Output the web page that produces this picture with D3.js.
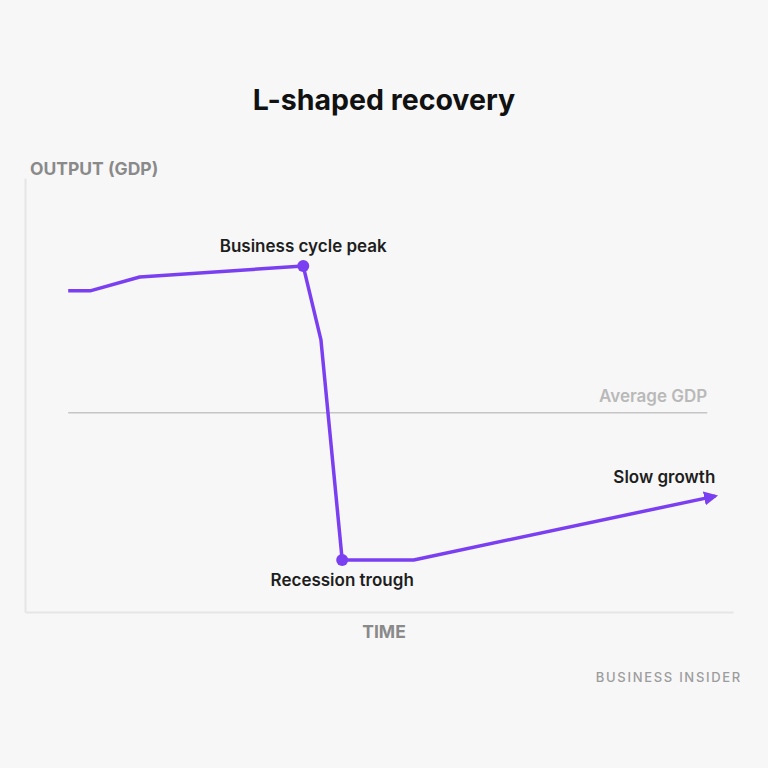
<!DOCTYPE html>
<html>
<head>
<meta charset="utf-8">
<script src="https://cdn.jsdelivr.net/npm/d3@7"></script>
<style>
  body { margin: 0; background: #f7f7f7; }
  text { font-family: Inter, "Noto Sans", sans-serif; }
</style>
</head>
<body>
<script>
// time (0-100) and output (0-100)
var times  = [6.1, 9.2, 16.2, 39.3, 41.8, 44.8, 54.9, 97.5];
var output = [74.0, 74.0, 77.2, 79.7, 62.7, 12.0, 12.0, 26.7];
var avgGdp = 45.9;
var markers = [3, 5]; // peak, trough

var width = 768, height = 768;
var purple = "#7b3ff2";

var svg = d3.select("body").append("svg")
  .attr("width", width)
  .attr("height", height);

svg.append("rect").attr("width", width).attr("height", height).attr("fill", "#f7f7f7");

var x = d3.scaleLinear().domain([0, 100]).range([25, 733]);
var y = d3.scaleLinear().domain([0, 100]).range([612, 178]);

// axes: just plain lines, no ticks
svg.append("g")
  .attr("transform", "translate(0,612)")
  .call(d3.axisBottom(x).tickValues([]).tickSizeOuter(0))
  .select(".domain").attr("stroke", "#e6e6e6").attr("stroke-width", 2);
svg.append("g")
  .attr("transform", "translate(25,0)")
  .call(d3.axisLeft(y).tickValues([]).tickSizeOuter(0))
  .select(".domain").attr("stroke", "#e6e6e6").attr("stroke-width", 2);

// average line
svg.append("line")
  .attr("x1", x(6.1)).attr("x2", x(97.5) - 8)
  .attr("y1", y(avgGdp)).attr("y2", y(avgGdp))
  .attr("stroke", "#c6c6c6").attr("stroke-width", 1.5);

svg.append("text")
  .attr("x", x(97.5) - 8).attr("y", y(avgGdp) - 11)
  .attr("text-anchor", "end")
  .attr("fill", "#b9b9b9").attr("font-size", 17).attr("font-weight", 600)
  .text("Average GDP");

var pts = times.map(function(t, i) { return [x(t), y(output[i])]; });

svg.append("defs").append("marker")
  .attr("id", "arrow")
  .attr("viewBox", "0 0 10 10")
  .attr("refX", 8).attr("refY", 5)
  .attr("markerWidth", 4).attr("markerHeight", 4)
  .attr("markerUnits", "strokeWidth")
  .attr("orient", "auto")
  .append("path").attr("d", "M0,0L10,5L0,10z").attr("fill", purple);

svg.append("path")
  .attr("d", d3.line()(pts))
  .attr("fill", "none")
  .attr("stroke", purple)
  .attr("stroke-width", 3.5)
  .attr("stroke-linejoin", "round")
  .attr("marker-end", "url(#arrow)");

svg.selectAll("circle.m").data(markers).enter().append("circle")
  .attr("class", "m")
  .attr("cx", function(i) { return pts[i][0]; })
  .attr("cy", function(i) { return pts[i][1]; })
  .attr("r", 6)
  .attr("fill", purple);

var lab = function(tx, ty, anchor, s) {
  svg.append("text").attr("x", tx).attr("y", ty)
    .attr("text-anchor", anchor)
    .attr("fill", "#1e1e1e").attr("font-size", 17).attr("font-weight", 600)
    .text(s);
};
lab(pts[3][0], pts[3][1] - 14, "middle", "Business cycle peak");
lab(pts[5][0], pts[5][1] + 26, "middle", "Recession trough");
lab(pts[7][0], pts[7][1] - 13, "end", "Slow growth");

svg.append("text")
  .attr("x", 384).attr("y", 110)
  .attr("text-anchor", "middle")
  .attr("fill", "#111").attr("font-size", 28.5).attr("font-weight", 700)
  .text("L-shaped recovery");

svg.append("text")
  .attr("x", 30).attr("y", 175)
  .attr("fill", "#8a8a8a").attr("font-size", 17.5).attr("font-weight", 700)
  .text("OUTPUT (GDP)");

svg.append("text")
  .attr("x", 384).attr("y", 638)
  .attr("text-anchor", "middle")
  .attr("fill", "#8a8a8a").attr("font-size", 17.5).attr("font-weight", 700)
  .text("TIME");

svg.append("text")
  .attr("x", 742).attr("y", 682)
  .attr("text-anchor", "end")
  .attr("fill", "#9c9c9c").attr("font-size", 13).attr("font-weight", 500)
  .attr("letter-spacing", 1.7)
  .text("BUSINESS INSIDER");
</script>
</body>
</html>
